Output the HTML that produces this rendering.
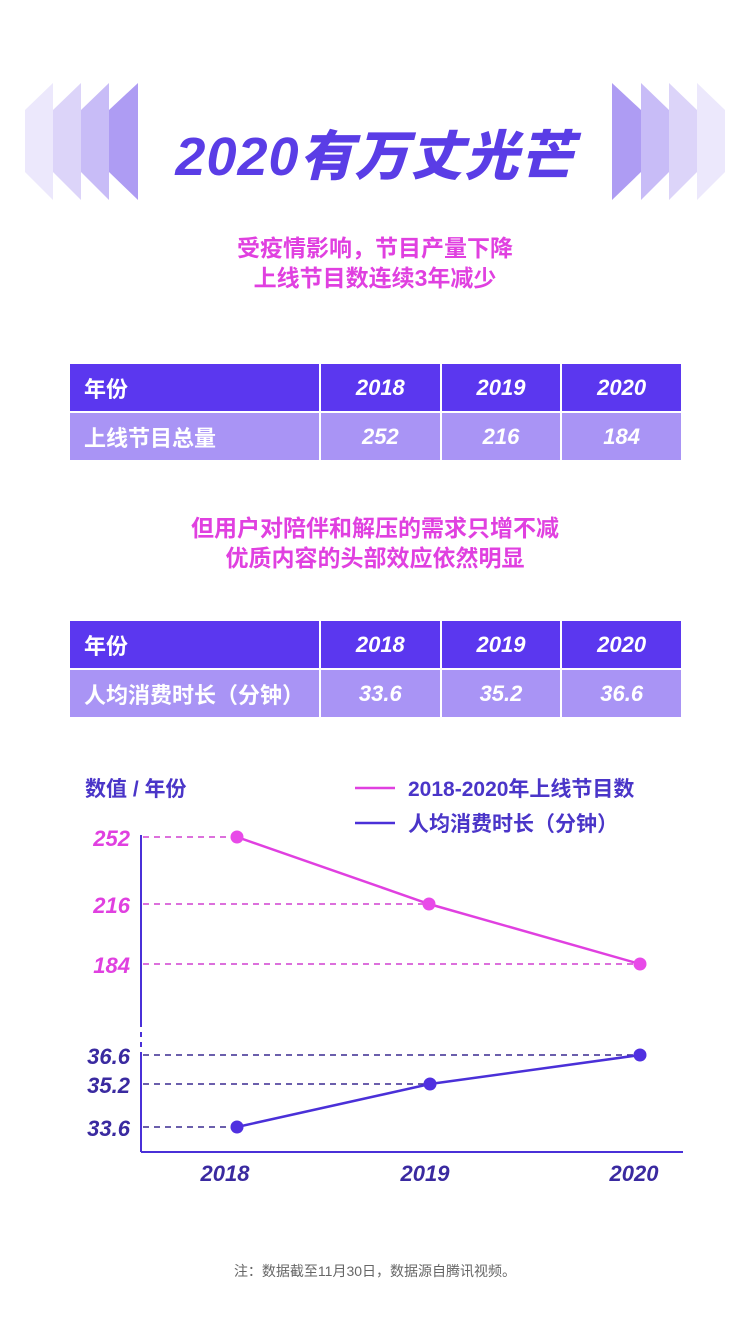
<!DOCTYPE html><html><head><meta charset="utf-8"><style>
body{margin:0;width:750px;height:1330px;background:#fff;position:relative;font-family:"Liberation Sans","Noto Sans CJK SC",sans-serif;overflow:hidden}
.t{position:absolute;left:0;width:750px;text-align:center}
table{position:absolute;left:68px;width:615px;border-collapse:collapse;color:#fff;font-size:22px;font-weight:bold}
td{border:2px solid #fff;height:47px;text-align:center;padding:0}
td:first-child{text-align:left;padding-left:14px;width:235px}
.h td{background:#5b37ef}.r td{background:#a994f5}
.n{font-style:italic}
</style></head><body>
<svg width="750" height="300" style="position:absolute;left:0;top:0">
<g>
<polygon points="25,110 53,83 53,200 25,172" fill="#ece8fc"/>
<polygon points="53,110 81,83 81,200 53,172" fill="#dcd4f9"/>
<polygon points="81,110 109,83 109,200 81,172" fill="#c8bcf7"/>
<polygon points="109,110 138,83 138,200 109,172" fill="#ae9cf3"/>
<polygon points="725,110 697,83 697,200 725,172" fill="#ece8fc"/>
<polygon points="697,110 669,83 669,200 697,172" fill="#dcd4f9"/>
<polygon points="669,110 641,83 641,200 669,172" fill="#c8bcf7"/>
<polygon points="641,110 612,83 612,200 641,172" fill="#ae9cf3"/>
</g></svg>
<div class="t" style="top:112px;font-size:54px;font-weight:900;font-style:italic;color:#5a3de6;letter-spacing:1px">2020有万丈光芒</div>
<div class="t" style="top:233px;font-size:23px;font-weight:bold;color:#e040e0;line-height:30px">受疫情影响，节目产量下降<br>上线节目数连续3年减少</div>
<table style="top:362px"><tr class="h"><td>年份</td><td class="n">2018</td><td class="n">2019</td><td class="n">2020</td></tr>
<tr class="r"><td>上线节目总量</td><td class="n">252</td><td class="n">216</td><td class="n">184</td></tr></table>
<div class="t" style="top:513px;font-size:23px;font-weight:bold;color:#e040e0;line-height:30px">但用户对陪伴和解压的需求只增不减<br>优质内容的头部效应依然明显</div>
<table style="top:619px"><tr class="h"><td>年份</td><td class="n">2018</td><td class="n">2019</td><td class="n">2020</td></tr>
<tr class="r"><td>人均消费时长（分钟）</td><td class="n">33.6</td><td class="n">35.2</td><td class="n">36.6</td></tr></table>
<svg width="750" height="500" style="position:absolute;left:0;top:750px" font-family="Liberation Sans,Noto Sans CJK SC,sans-serif" font-weight="bold" font-style="italic">
<text x="85" y="46" font-size="21" fill="#4a35c8" font-style="normal">数值 / 年份</text>
<line x1="355" y1="38" x2="395" y2="38" stroke="#e040e0" stroke-width="2.5"/>
<line x1="355" y1="73" x2="395" y2="73" stroke="#4a30d8" stroke-width="2.5"/>
<text x="408" y="46" font-size="21" fill="#4a35c8" font-style="normal">2018-2020年上线节目数</text>
<text x="408" y="81" font-size="21" fill="#4a35c8" font-style="normal">人均消费时长（分钟）</text>
<line x1="141" y1="85" x2="141" y2="272" stroke="#4a30d8" stroke-width="2"/>
<line x1="141" y1="272" x2="141" y2="305" stroke="#4a30d8" stroke-width="2" stroke-dasharray="5,5"/>
<line x1="141" y1="305" x2="141" y2="402" stroke="#4a30d8" stroke-width="2"/>
<line x1="141" y1="402" x2="683" y2="402" stroke="#4a30d8" stroke-width="2"/>
<g stroke-dasharray="6,5" stroke-width="1.5">
<line x1="143" y1="87" x2="237" y2="87" stroke="#d040d0"/>
<line x1="143" y1="154" x2="429" y2="154" stroke="#d040d0"/>
<line x1="143" y1="214" x2="640" y2="214" stroke="#d040d0"/>
<line x1="143" y1="305" x2="640" y2="305" stroke="#3a2a90"/>
<line x1="143" y1="334" x2="430" y2="334" stroke="#3a2a90"/>
<line x1="143" y1="377" x2="237" y2="377" stroke="#3a2a90"/>
</g>
<polyline points="237,87 429,154 640,214" fill="none" stroke="#e040e0" stroke-width="2.5"/>
<polyline points="237,377 430,334 640,305" fill="none" stroke="#4a30d8" stroke-width="2.5"/>
<g fill="#e84ae8"><circle cx="237" cy="87" r="6.5"/><circle cx="429" cy="154" r="6.5"/><circle cx="640" cy="214" r="6.5"/></g>
<g fill="#5030e0"><circle cx="237" cy="377" r="6.5"/><circle cx="430" cy="334" r="6.5"/><circle cx="640" cy="305" r="6.5"/></g>
<g font-size="22" text-anchor="end">
<text x="130" y="96" fill="#e040e0">252</text><text x="130" y="163" fill="#e040e0">216</text><text x="130" y="223" fill="#e040e0">184</text>
<text x="130" y="314" fill="#3a2aa0">36.6</text><text x="130" y="343" fill="#3a2aa0">35.2</text><text x="130" y="386" fill="#3a2aa0">33.6</text>
</g>
<g font-size="22" text-anchor="middle" fill="#3a2aa0">
<text x="225" y="431">2018</text><text x="425" y="431">2019</text><text x="634" y="431">2020</text></g>
</svg>
<div class="t" style="top:1261px;font-size:14px;color:#666">注：数据截至11月30日，数据源自腾讯视频。</div>
</body></html>
